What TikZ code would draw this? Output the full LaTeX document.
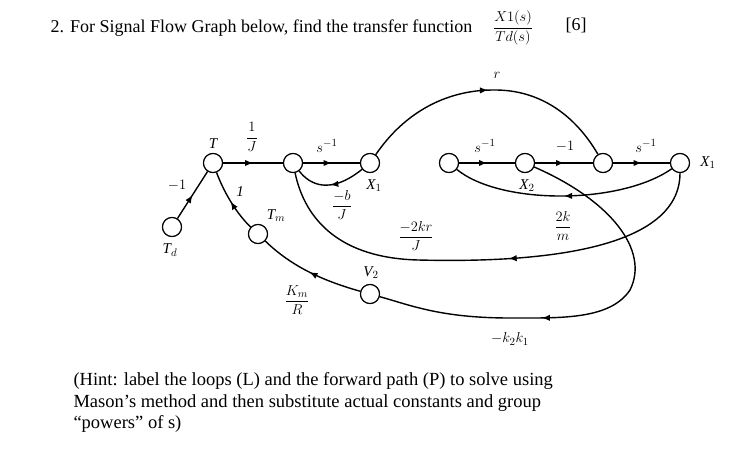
\documentclass[tikz,border=0pt]{standalone}
\usepackage{fontspec}
\setmainfont{Liberation Serif}
\usetikzlibrary{decorations.markings,arrows.meta}
\begin{document}
\begin{tikzpicture}[x=1pt,y=-1pt,
  nd/.style={circle,draw,line width=1.1pt,minimum size=19pt,inner sep=0pt,fill=white},
  br/.style={line width=1.4pt,postaction={decorate},decoration={markings,mark=at position #1 with {\arrow{Latex[length=8pt,width=6.5pt]}}}},
  br/.default=0.5,
  lb/.style={font=\itshape\fontsize{15}{16}\selectfont,inner sep=1pt}]
\useasboundingbox (0,0) rectangle (736,470);
\node[anchor=west,font=\fontsize{18}{20}\selectfont] (title) at (47,28) {2. For Signal Flow Graph below, find the transfer function};
\node[font=\fontsize{14}{15}\selectfont] (frac) at (513,28) {$\displaystyle\frac{X1(s)}{Td(s)}$};
\node[font=\fontsize{18}{20}\selectfont] (mark) at (576,25) {[6]};
\node (Td) [nd] at (172,227) {};
\node (T) [nd] at (213,163) {};
\node (n2) [nd] at (293,163) {};
\node (X1a) [nd] at (370,163) {};
\node (n5) [nd] at (449,163) {};
\node (X2) [nd] at (525,163) {};
\node (n7) [nd] at (603,163) {};
\node (X1) [nd] at (680,163) {};
\node (Tm) [nd] at (258,234) {};
\node (V2) [nd] at (370,294) {};
\draw[br] (Td) -- (T);
\draw[br] (T) -- (n2);
\draw[br] (n2) -- (X1a);
\draw[br] (n5) -- (X2);
\draw[br] (X2) -- (n7);
\draw[br] (n7) -- (X1);
\draw[br] (X1a) .. controls (330,195) and (310,185) .. (n2);
\draw[br] (X1a) .. controls (420,90) and (480,90) .. (495,90) .. controls (540,90) and (575,115) .. (n7);
\draw[br] (X1) .. controls (620,205) and (500,205) .. (n5);
\draw[br=0.45] (X1) .. controls (680,260) and (500,262) .. (418,260) .. controls (340,258) and (305,220) .. (n2);
\draw[br=0.62] (X2) .. controls (610,200) and (650,250) .. (630,290) .. controls (610,320) and (560,318) .. (510,318) .. controls (440,318) and (410,305) .. (V2);
\draw[br] (V2) .. controls (320,280) and (290,265) .. (Tm);
\draw[br] (Tm) .. controls (238,215) and (225,195) .. (T);
\node (Td) [nd] at (172,227) {};
\node (T) [nd] at (213,163) {};
\node (n2) [nd] at (293,163) {};
\node (X1a) [nd] at (370,163) {};
\node (n5) [nd] at (449,163) {};
\node (X2) [nd] at (525,163) {};
\node (n7) [nd] at (603,163) {};
\node (X1) [nd] at (680,163) {};
\node (Tm) [nd] at (258,234) {};
\node (V2) [nd] at (370,294) {};
\node[lb] (lTd) at (170,250) {T$_d$};
\node[lb] (lT) at (213,144) {T};
\node[lb] (lTm) at (276,216) {T$_m$};
\node[lb] (lV2) at (371,273) {V$_2$};
\node[lb] (lX1a) at (374,186) {X$_1$};
\node[lb] (lX2) at (527,186) {X$_2$};
\node[lb] (lX1) at (708,163) {X$_1$};
\node[lb] (g1) at (177,185) {$-1$};
\node[lb] (g2) at (252,137) {$\displaystyle\frac{1}{J}$};
\node[lb] (g3) at (327,146) {$s^{-1}$};
\node[lb] (g4) at (342,205) {$\displaystyle\frac{-b}{J}$};
\node[lb] (g5) at (497,75) {$r$};
\node[lb] (g6) at (485,146) {$s^{-1}$};
\node[lb] (g7) at (565,146) {$-1$};
\node[lb] (g8) at (646,146) {$s^{-1}$};
\node[lb] (g9) at (563,226) {$\displaystyle\frac{2k}{m}$};
\node[lb] (g10) at (416,236) {$\displaystyle\frac{-2kr}{J}$};
\node[lb] (g11) at (510,339) {$-k_2k_1$};
\node[lb] (g12) at (297,300) {$\displaystyle\frac{K_m}{R}$};
\node[lb] (g13) at (240,192) {1};
\node[anchor=north west,align=left,font=\fontsize{18.5}{21.5}\selectfont] (hint) at (70,369) {(Hint: label the loops (L) and the forward path (P) to solve using\\Mason’s method and then substitute actual constants and group\\“powers” of s)};
\end{tikzpicture}
\end{document}
